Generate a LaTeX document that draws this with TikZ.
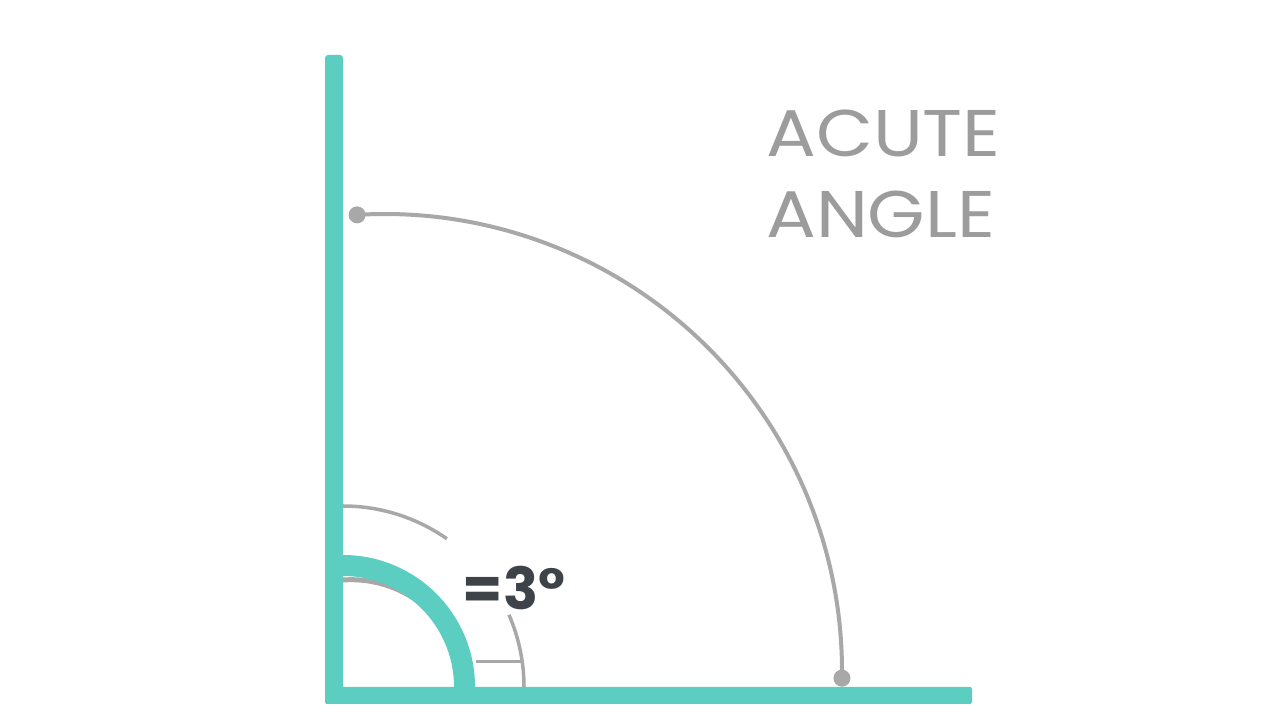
\documentclass[tikz,border=0pt]{standalone}
\usepackage{fontspec}
\usetikzlibrary{calc}
\newfontfamily\labelfont{Poppins}
\newfontfamily\titlefont{Poppins}[FakeStretch=1.12]
\definecolor{teal1}{HTML}{5CCDC1}
\definecolor{gray1}{HTML}{A8A8A8}
\definecolor{txtgray}{HTML}{9C9C9C}
\definecolor{dark1}{HTML}{3D4349}
\tikzset{
  bar/.style={fill=teal1, draw=none},
  thinarc/.style={draw=gray1, line width=4pt},
  enddot/.style={circle, fill=gray1, draw=none, inner sep=0pt, minimum size=17pt},
  title/.style={text=txtgray, font=\titlefont\fontsize{66}{66}\selectfont, anchor=base west, inner sep=0pt},
}
\begin{document}
\begin{tikzpicture}[x=1pt,y=1pt]
\useasboundingbox[fill=white] (0,0) rectangle (1280,720);
% big arc (circle centre (385,49), r=457)
\coordinate (bc) at (385,49);
\draw[thinarc] (bc) ++(93.5:457) arc[start angle=93.5, end angle=-0.9, radius=457];
\node[enddot] (d1) at ($(bc)+(93.5:457)$) {};
\node[enddot] (d2) at ($(bc)+(-0.9:457)$) {};
% small arcs around vertex
\coordinate (v) at (343,33);
\draw[thinarc, line width=3.5pt] (v) ++(90:181) arc[start angle=90, end angle=55, radius=181];
\draw[thinarc, line width=3.5pt] (v) ++(23.5:181) arc[start angle=23.5, end angle=0, radius=181];
\coordinate (gc) at (351,25);
\draw[thinarc, line width=5pt] (gc) ++(94:115.3) arc[start angle=94, end angle=40, radius=115.3];
\draw[teal1, line width=21pt] (v) ++(90:121.5) arc[start angle=90, end angle=0, radius=121.5];
\coordinate (t1) at (476,58);
\coordinate (t2) at (524,58);
\draw[gray1, line width=3pt] (t1) -- (t2);
% bars
\fill[bar, rounded corners=3pt] (325,16) rectangle (343,665);
\fill[bar, rounded corners=2pt] (325,16) rectangle (972,33);
% label
\node[text=dark1, font=\labelfont\bfseries\fontsize{58}{58}\selectfont, inner sep=0pt] (lab) at (514,132) {=3°};
% title
\node[title] (t) at (766,563) {ACUTE};
\node[title] (a) at (766,482) {ANGLE};
\end{tikzpicture}
\end{document}
